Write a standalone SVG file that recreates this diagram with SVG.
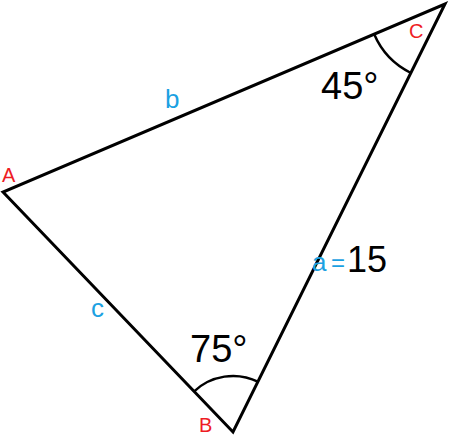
<svg xmlns="http://www.w3.org/2000/svg" width="450" height="436" viewBox="0 0 450 436">
<style>
.ln{fill:none;stroke:#000;stroke-width:3;stroke-linejoin:miter}
.arc{fill:none;stroke:#000;stroke-width:2.5}
.v{font-family:"Liberation Sans",Arial,sans-serif;font-size:20px;fill:#ee1c24}
.s{font-family:"Liberation Sans",Arial,sans-serif;font-size:26px;fill:#1ba1e2}
.big{font-family:"Liberation Sans",Arial,sans-serif;font-size:38px;fill:#000}
</style>
<rect width="450" height="436" fill="#fff"/>
<g id="connectors">
<polygon class="ln" points="3,192 233,432 445,4"/>
</g>
<g id="A"><text class="v" x="2" y="182">A</text></g>
<g id="B">
<path class="arc" d="M193.6,391.8 A57,57 0 0 1 258.3,381.9"/>
<text class="v" x="199" y="432">B</text>
<text class="big" x="190" y="362">75°</text>
</g>
<g id="C">
<path class="arc" d="M374.1,34.1 A77,77 0 0 0 410.9,73"/>
<text class="v" x="409" y="38">C</text>
<text class="big" x="321" y="99">45°</text>
</g>
<g id="side-b"><text class="s" x="165" y="108">b</text></g>
<g id="side-c"><text class="s" x="91" y="317">c</text></g>
<g id="side-a"><text class="s" x="312" y="271">a</text><text class="s" x="331" y="271" style="font-size:24px">=</text><text class="big" x="347" y="272" style="font-size:36px">15</text></g>
</svg>
